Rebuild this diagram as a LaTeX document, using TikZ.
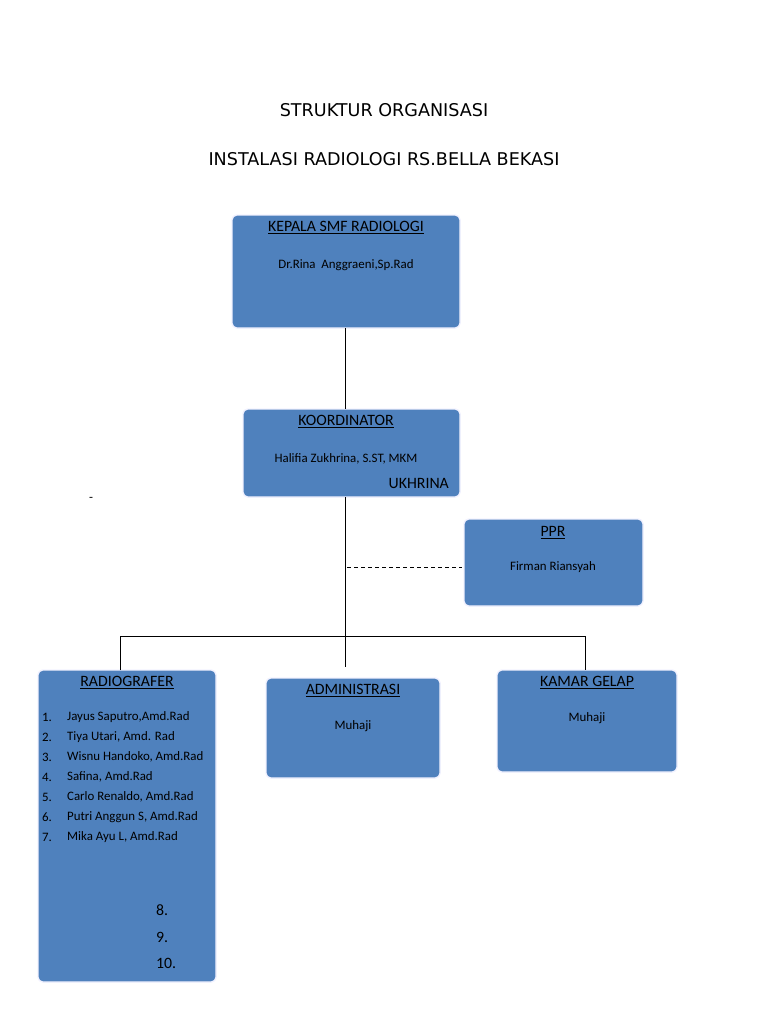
\documentclass[tikz,border=0pt]{standalone}
\usepackage{fontspec}
\setmainfont{Carlito}
\newfontfamily\titlefont{DejaVu Sans}
\begin{document}
\begin{tikzpicture}[x=0.03cm,y=-0.03cm,
  box/.style={draw=blue!5,line width=1.2pt,fill={rgb,255:red,79;green,129;blue,189},rounded corners=4pt},
  head/.style={font=\fontsize{13.5}{15}\selectfont},
  person/.style={font=\fontsize{11}{13}\selectfont},
  conn/.style={line width=0.6pt}]
\useasboundingbox (0,0) rectangle (768,1024);
% title
\node[font=\titlefont\fontsize{15}{18}\selectfont] (t1) at (384,110) {STRUKTUR ORGANISASI};
\node[font=\titlefont\fontsize{15}{18}\selectfont] (t2) at (384,159) {INSTALASI RADIOLOGI RS.BELLA BEKASI};
% boxes
\draw[box] (232,215) rectangle (460,328);
\node[head] (kepala) at (346,228) {\underline{KEPALA SMF RADIOLOGI}};
\node[person] (rina) at (346,265) {Dr.Rina\ \ Anggraeni,Sp.Rad};
\draw[box] (243,409) rectangle (460,497);
\node[head] (koord) at (346,422) {\underline{KOORDINATOR}};
\node[person] (halifia) at (346,459) {Halifia Zukhrina, S.ST, MKM};
\node[head,anchor=east] (ukh) at (453,483) {UKHRINA};
\draw[box] (464,519) rectangle (643,606);
\node[head] (ppr) at (553,533) {\underline{PPR}};
\node[person] (firman) at (553,567) {Firman Riansyah};
\draw[box] (38,670) rectangle (216,982);
\node[head] (rad) at (127,683) {\underline{RADIOGRAFER}};
\foreach \n/\t [count=\i] in {1/{Jayus Saputro,Amd.Rad},2/{Tiya Utari, Amd. Rad},3/{Wisnu Handoko, Amd.Rad},4/{Safina, Amd.Rad},5/{Carlo Renaldo, Amd.Rad},6/{Putri Anggun S, Amd.Rad},7/{Mika Ayu L, Amd.Rad}}{
  \node[person,anchor=west] (no\i) at (38,697+20*\i) {\n.};
  \node[person,anchor=west] (r\i) at (63,697+20*\i) {\t};
}
\foreach \n [count=\i] in {8,9,10}
  \node[head,anchor=west] (m\i) at (152,884+26.5*\i) {\n.};
\draw[box] (266,678) rectangle (440,778);
\node[head] (adm) at (353,691) {\underline{ADMINISTRASI}};
\node[person] (muh1) at (353,726) {Muhaji};
\draw[box] (497,670) rectangle (677,772);
\node[head] (kamar) at (587,683) {\underline{KAMAR GELAP}};
\node[person] (muh2) at (587,718) {Muhaji};
\node[person] (dash) at (91,499) {-};
% connectors
\coordinate (k1) at (345,328); \coordinate (k2) at (345,409);
\coordinate (k3) at (345,497); \coordinate (k4) at (345,667);
\coordinate (p1) at (347,567); \coordinate (p2) at (462,567);
\coordinate (h1) at (120,670); \coordinate (h2) at (585,670);
\draw[conn] (k1) -- (k2);
\draw[conn] (k3) -- (k4);
\draw[conn,dashed] (p1) -- (p2);
\draw[conn] (h1) -- (120,636) -- (585,636) -- (h2);
\end{tikzpicture}
\end{document}
